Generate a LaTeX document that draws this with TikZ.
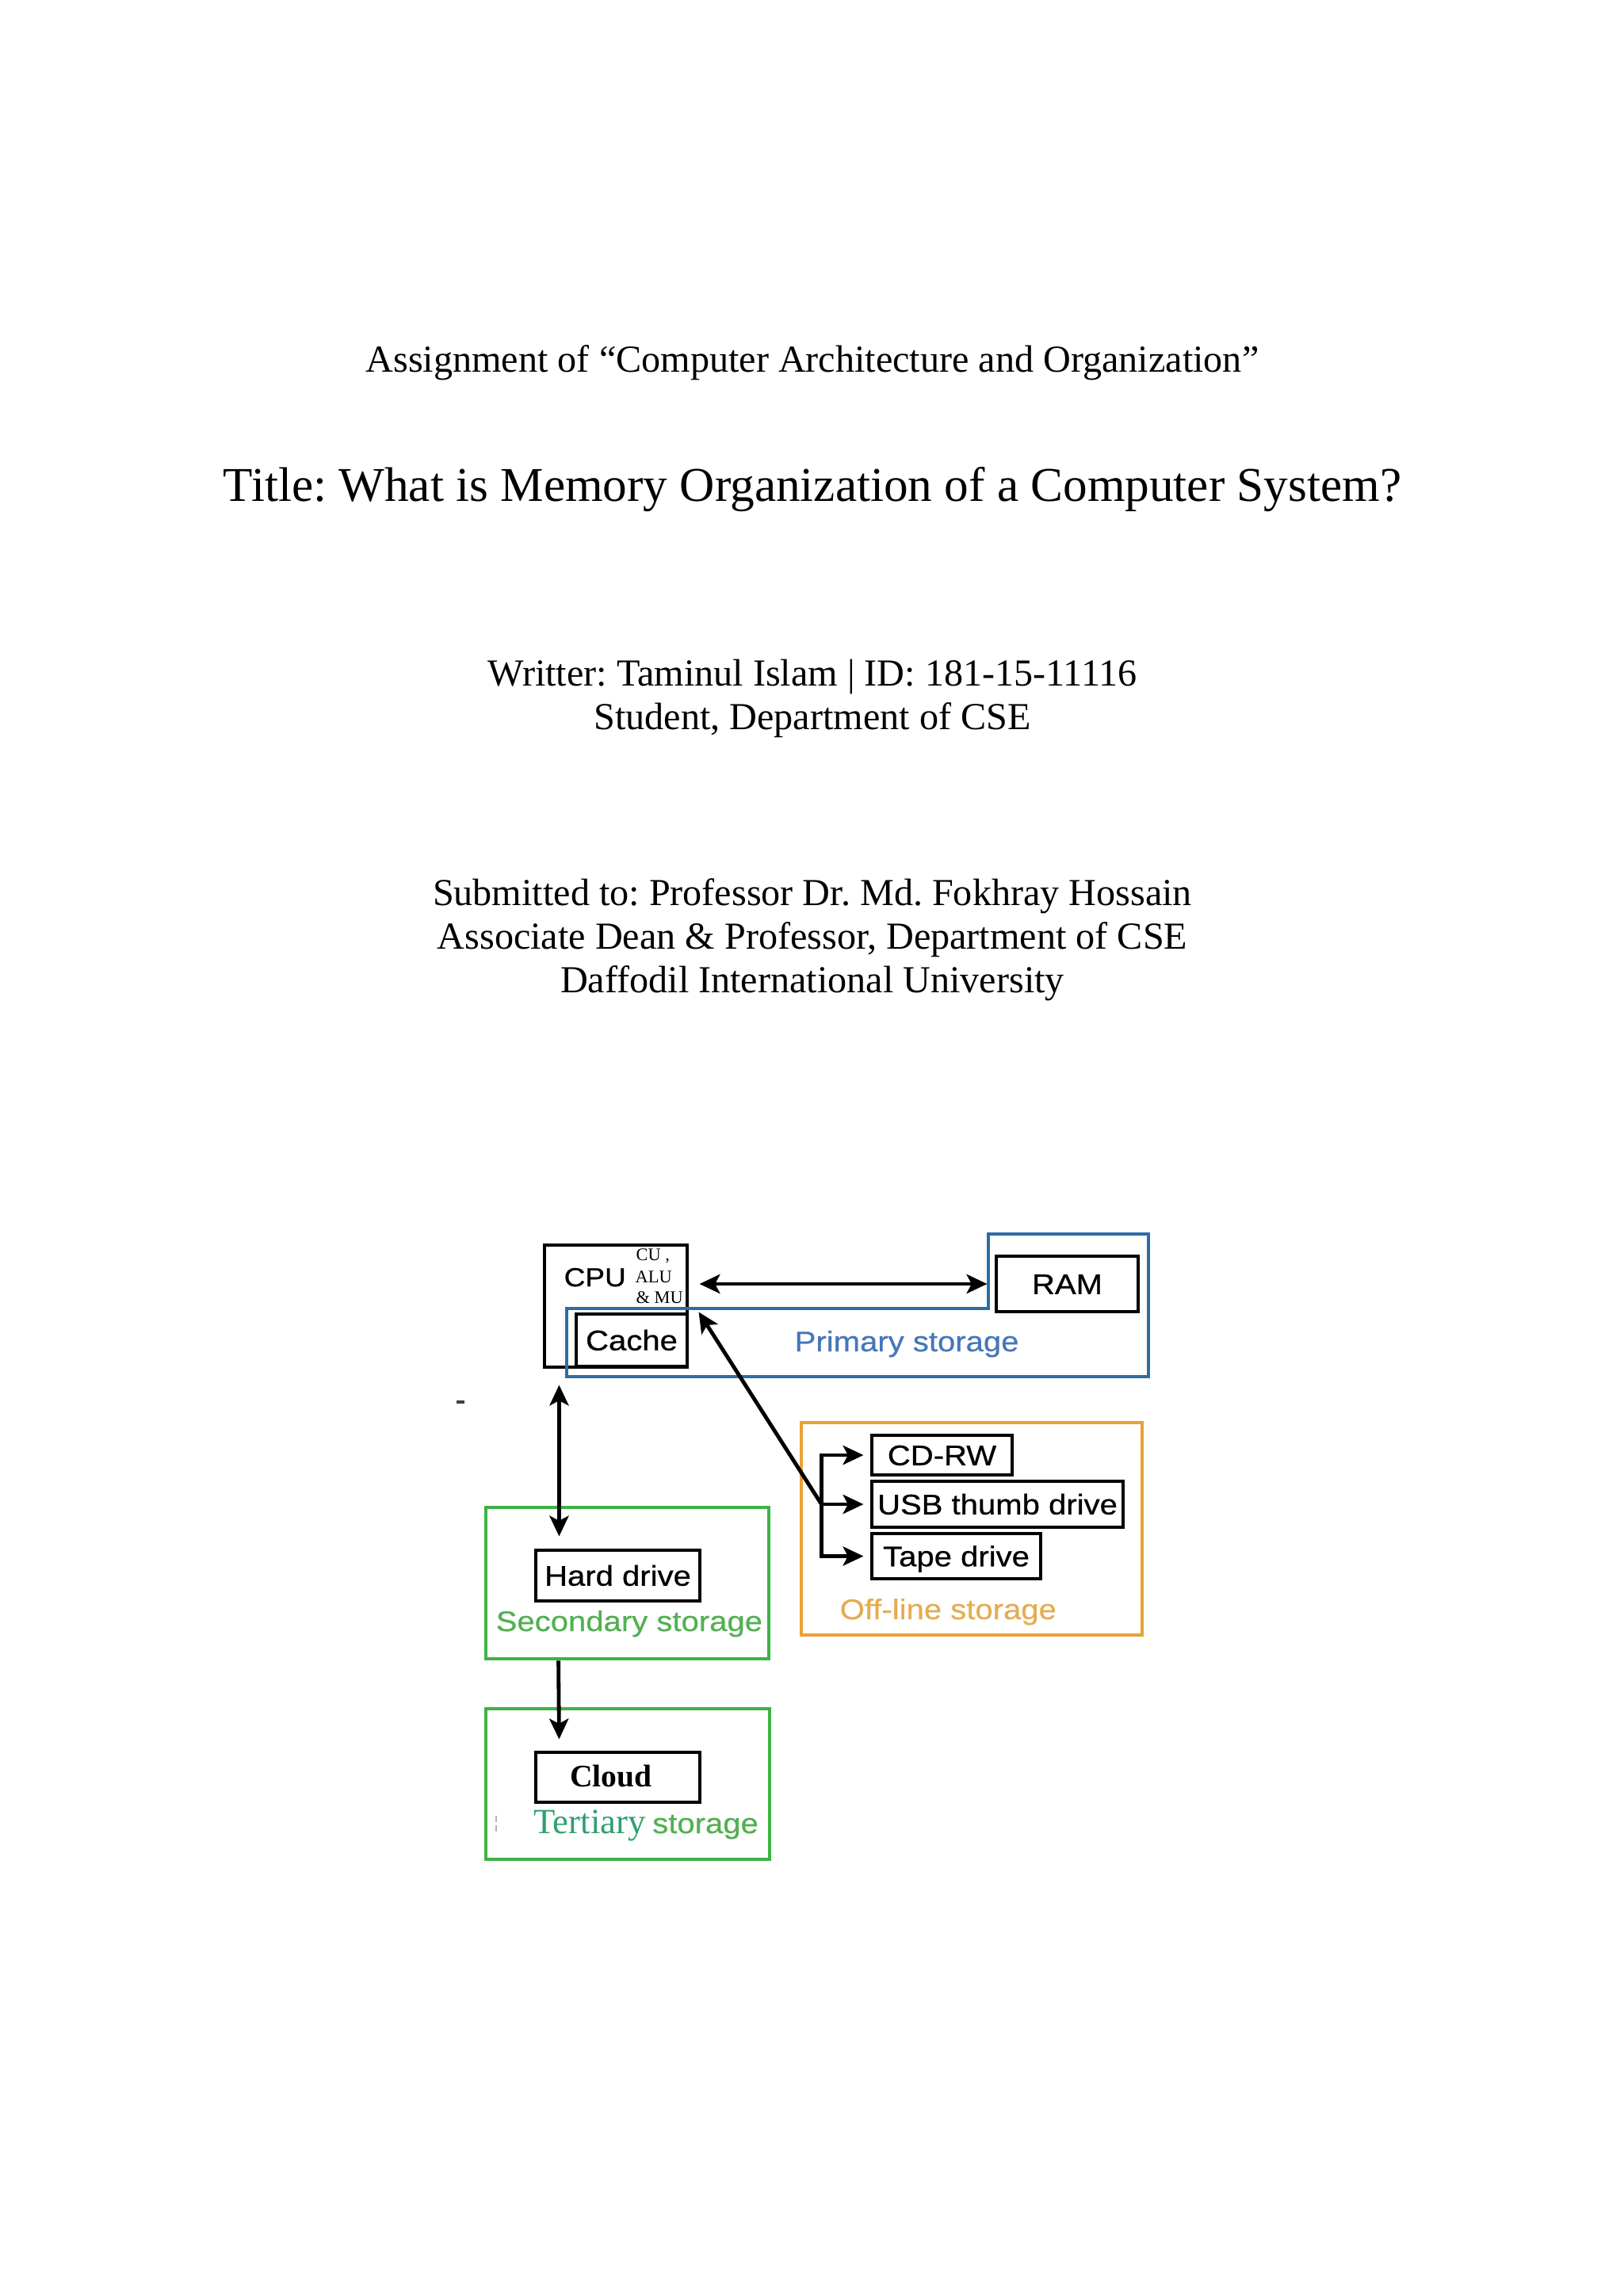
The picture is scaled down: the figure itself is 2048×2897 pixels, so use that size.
\documentclass[tikz,border=0pt]{standalone}
\usepackage{fontspec}
\setmainfont{Liberation Serif}
\newfontfamily\dsans[FakeStretch=1.12,FakeBold=0.7]{Liberation Sans}
\newfontfamily\dsansc[FakeStretch=1.12,FakeBold=0.5]{Liberation Sans}
\newfontfamily\dserif{Liberation Serif}
\usetikzlibrary{arrows.meta,calc}
\definecolor{pblue}{RGB}{46,108,165}
\definecolor{ptext}{RGB}{70,118,185}
\definecolor{ogbox}{RGB}{232,162,52}
\definecolor{ogtext}{RGB}{228,172,82}
\definecolor{grbox}{RGB}{62,178,70}
\definecolor{grtext}{RGB}{82,176,82}
\definecolor{teal}{RGB}{48,160,112}
\def\px{0.29066pt}
\tikzset{
  pagetext/.style={anchor=base,inner sep=0pt,font=\fontsize{14}{16}\selectfont},
  blackbox/.style={draw=black,line width=0.9pt,inner sep=0pt,text height=7.4pt,text depth=0pt,
    font=\dsans\fontsize{10.4}{12}\selectfont},
  groupbox/.style={line width=1.4pt,inner sep=0pt},
  lbl/.style={anchor=base west,inner sep=0pt,font=\dsansc\fontsize{10.4}{12}\selectfont},
  tip/.style={-{Stealth[length=7.5pt,width=7pt,inset=1.8pt]}},
  arr/.style={line width=1.4pt,tip},
  dbl/.style={line width=1.4pt,{Stealth[length=7.5pt,width=7pt,inset=1.8pt]}-{Stealth[length=7.5pt,width=7pt,inset=1.8pt]}}
}
\begin{document}
\frenchspacing
\begin{tikzpicture}[x=0.29066pt,y=-0.29066pt]
\useasboundingbox[fill=white] (0,0) rectangle (2048,2897);

% page texts
\node[pagetext] (t1) at (1025,469) {Assignment of “Computer Architecture and Organization”};
\node[pagetext,font=\fontsize{17.8}{20}\selectfont] (t2) at (1025,632) {Title: What is Memory Organization of a Computer System?};
\node[pagetext] (t3) at (1025,865) {Writter: Taminul Islam | ID: 181-15-11116};
\node[pagetext] (t4) at (1025,920) {Student, Department of CSE};
\node[pagetext] (t5) at (1025,1142) {Submitted to: Professor Dr. Md. Fokhray Hossain};
\node[pagetext] (t6) at (1025,1197) {Associate Dean \& Professor, Department of CSE};
\node[pagetext] (t7) at (1025,1252) {Daffodil International University};

% CPU and primary storage
\node[draw=black,line width=0.9pt,minimum width=180*\px,minimum height=154*\px,inner sep=0pt] (cpu) at (777,1648) {};
\node[blackbox,minimum width=140*\px,minimum height=66*\px] (cache) at (797,1691) {Cache};
\node[blackbox,minimum width=179*\px,minimum height=70*\px] (ram) at (1346.5,1620) {RAM};
\draw[pblue,line width=1.4pt] (715,1737) -- (715,1651) -- (1247,1651) -- (1247,1557) -- (1449,1557) -- (1449,1737) -- cycle;
\node[anchor=base west,inner sep=0pt,font=\dsans\fontsize{9.6}{11}\selectfont] (cputxt) at (711,1623) {CPU};
\node[anchor=base west,inner sep=0pt,font=\dserif\fontsize{6.5}{7.5}\selectfont] (cu) at (802,1590) {CU ,};
\node[anchor=base west,inner sep=0pt,font=\dserif\fontsize{6.5}{7.5}\selectfont] (alu) at (801,1618) {ALU};
\node[anchor=base west,inner sep=0pt,font=\dserif\fontsize{6.5}{7.5}\selectfont] (mu) at (802,1644) {\& MU};
\node[lbl,text=ptext] (ptxt) at (1002,1705) {Primary storage};

% off-line storage
\node[groupbox,draw=ogbox,minimum width=430*\px,minimum height=268*\px] (off) at (1226,1929) {};
\node[blackbox,minimum width=177*\px,minimum height=50*\px] (cdrw) at (1188.5,1836) {CD-RW};
\node[blackbox,minimum width=317*\px,minimum height=58*\px] (usb) at (1258.5,1898) {USB thumb drive};
\node[blackbox,minimum width=213*\px,minimum height=57*\px] (tape) at (1206.5,1963.5) {Tape drive};
\node[lbl,text=ogtext] (otxt) at (1059,2043) {Off-line storage};

% secondary storage
\node[groupbox,draw=grbox,minimum width=357*\px,minimum height=191*\px] (sec) at (791.5,1997.5) {};
\node[blackbox,minimum width=207*\px,minimum height=64*\px] (hard) at (779.5,1988) {Hard drive};
\node[lbl,text=grtext] (stxt) at (625,2058) {Secondary storage};

% tertiary storage
\node[groupbox,draw=grbox,minimum width=358*\px,minimum height=190*\px] (ter) at (792,2251) {};
\node[draw=black,line width=0.9pt,minimum width=207*\px,minimum height=63*\px,inner sep=0pt] (cloud) at (779.5,2242.5) {};
\node[anchor=base,inner sep=0pt,font=\dserif\bfseries\fontsize{11.5}{13}\selectfont] (cloudtxt) at (771,2254) {Cloud};
\node[anchor=base west,inner sep=0pt] (ttxt) at (673,2313)
  {\textcolor{teal}{\dserif\fontsize{13}{15}\selectfont Tertiary} \textcolor{grtext}{\dsansc\fontsize{10.4}{12}\selectfont storage}};

% connectors
\draw[dbl] ($(cpu.east|-ram.west)+(14,0)$) -- ($(ram.west)+(-10,0)$);
\draw[dbl] ($(cpu.south west)+(20,21)$) -- ($(hard.north west)+(31,-16)$);
\draw[arr] ($(sec.south west)+(94,0)$) -- ($(cloud.north west)+(31,-15)$);
\coordinate (br) at ($(usb.west)+(-62,0)$);
\draw[arr] (br) -- ($(cache.north east)+(13,-1)$);
\draw[arr] (br) |- ($(cdrw.west)+(-9,0)$);
\draw[arr] (br) -- ($(usb.west)+(-9,0)$);
\draw[arr] (br) |- ($(tape.west)+(-9,0)$);

% small stray marks
\draw[black!75,line width=1pt] (576,1769) -- (586,1769);
\draw[black!30,line width=0.5pt] (626,2291) -- (626,2299) (626,2303) -- (626,2311);
\end{tikzpicture}
\end{document}
